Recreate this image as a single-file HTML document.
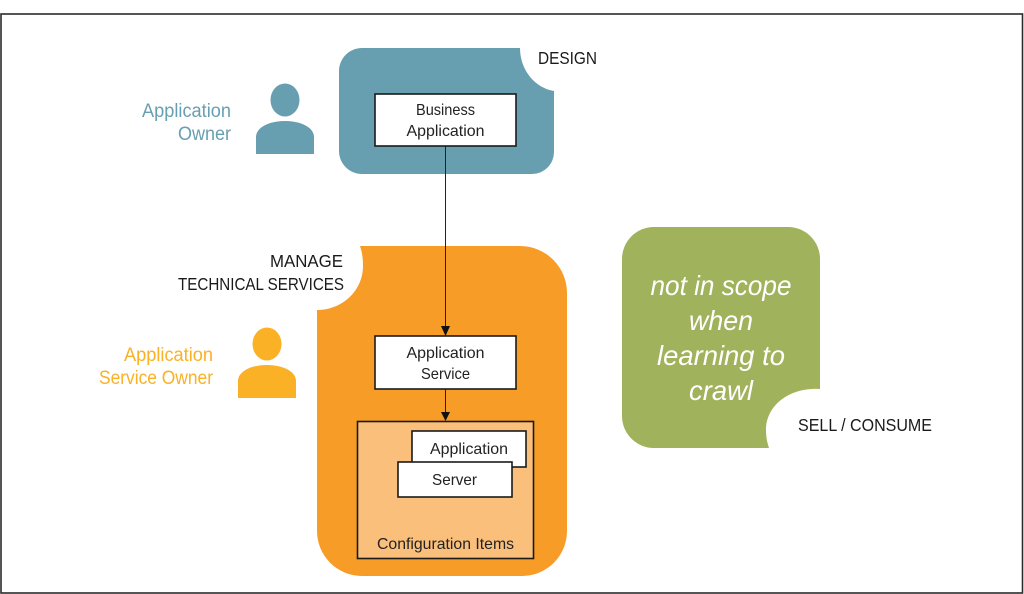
<!DOCTYPE html>
<html>
<head>
<meta charset="utf-8">
<style>
html,body{margin:0;padding:0;background:#fff;width:1024px;height:594px;overflow:hidden}
svg{display:block}
text{font-family:"Liberation Sans",sans-serif;font-size:17.5px;fill:#1a1a1a}
.t{font-size:16px;text-anchor:middle;fill:#222}
.o{font-size:19px}
.g{fill:#fff;font-size:28px;font-style:italic;text-anchor:middle}
</style>
</head>
<body>
<svg width="1024" height="594" viewBox="0 0 1024 594" xmlns="http://www.w3.org/2000/svg">
<rect x="0" y="0" width="1024" height="594" fill="#fff"/>
<rect x="1" y="14" width="1021.500" height="579" fill="#fff" stroke="#2b2b2b" stroke-width="1.600"/>

<!-- Teal -->
<path d="M362 48H520C520 70 535 88 554 91V152A22 22 0 0 1 532 174H362A23 23 0 0 1 339 151V71A23 23 0 0 1 362 48Z" fill="#679fb1"/>
<!-- Orange -->
<path d="M360 246H520A47 47 0 0 1 567 293V531A45 45 0 0 1 522 576H362A45 45 0 0 1 317 531V310C343 310 363 290 363 266C363 258 362 252 360 246Z" fill="#f79d27"/>
<!-- Green -->
<path d="M654 227H788A32 32 0 0 1 820 259V389C790 387 766 405 766 430C766 437 767 442 769 448H654A32 32 0 0 1 622 416V259A32 32 0 0 1 654 227Z" fill="#a0b25c"/>

<!-- People -->
<ellipse cx="285" cy="100" rx="14.500" ry="16.500" fill="#679fb1"/>
<path d="M256 154V137C256 128 268 121 285 121C302 121 314 128 314 137V154Z" fill="#679fb1"/>
<ellipse cx="267" cy="344" rx="14.500" ry="16.500" fill="#fab125"/>
<path d="M238 398V381C238 372 250 365 267 365C284 365 296 372 296 381V398Z" fill="#fab125"/>

<!-- Connectors -->
<line x1="445.500" y1="146" x2="445.500" y2="328" stroke="#222" stroke-width="1"/>
<polygon points="441,326 450,326 445.500,336" fill="#111"/>
<line x1="445.500" y1="389" x2="445.500" y2="414" stroke="#222" stroke-width="1"/>
<polygon points="441,412 450,412 445.500,421" fill="#111"/>

<!-- Boxes -->
<rect x="375" y="94" width="141" height="52" fill="#fff" stroke="#1a1a1a" stroke-width="1.600"/>
<rect x="375" y="336" width="141" height="53" fill="#fff" stroke="#1a1a1a" stroke-width="1.600"/>
<rect x="357.500" y="421.500" width="176" height="137" fill="#fac07b" stroke="#1a1a1a" stroke-width="1.600"/>
<rect x="412" y="431" width="114" height="36" fill="#fff" stroke="#1a1a1a" stroke-width="1.600"/>
<rect x="398" y="462" width="114" height="35" fill="#fff" stroke="#1a1a1a" stroke-width="1.600"/>

<!-- Box text -->
<text class="t" x="445.500" y="115" textLength="59" lengthAdjust="spacingAndGlyphs">Business</text>
<text class="t" x="445.500" y="136" textLength="78" lengthAdjust="spacingAndGlyphs">Application</text>
<text class="t" x="445.500" y="358" textLength="78" lengthAdjust="spacingAndGlyphs">Application</text>
<text class="t" x="445.500" y="379" textLength="49" lengthAdjust="spacingAndGlyphs">Service</text>
<text class="t" x="469" y="454" textLength="78" lengthAdjust="spacingAndGlyphs">Application</text>
<text class="t" x="454.500" y="485" textLength="45" lengthAdjust="spacingAndGlyphs">Server</text>
<text class="t" x="445.500" y="549" textLength="137" lengthAdjust="spacingAndGlyphs">Configuration Items</text>

<!-- Labels -->
<text x="538" y="64" textLength="59" lengthAdjust="spacingAndGlyphs">DESIGN</text>
<text x="270" y="267" textLength="73" lengthAdjust="spacingAndGlyphs">MANAGE</text>
<text x="178" y="290" textLength="166" lengthAdjust="spacingAndGlyphs">TECHNICAL SERVICES</text>
<text x="798" y="431" textLength="134" lengthAdjust="spacingAndGlyphs">SELL / CONSUME</text>

<text class="o" x="142" y="117" style="fill:#679fb1" textLength="89" lengthAdjust="spacingAndGlyphs">Application</text>
<text class="o" x="178" y="140" style="fill:#679fb1" textLength="53" lengthAdjust="spacingAndGlyphs">Owner</text>
<text class="o" x="124" y="361" style="fill:#fab125" textLength="89" lengthAdjust="spacingAndGlyphs">Application</text>
<text class="o" x="99" y="384" style="fill:#fab125" textLength="114" lengthAdjust="spacingAndGlyphs">Service Owner</text>

<text class="g" x="721" y="295" textLength="141" lengthAdjust="spacingAndGlyphs">not in scope</text>
<text class="g" x="721" y="330" textLength="64" lengthAdjust="spacingAndGlyphs">when</text>
<text class="g" x="721" y="365" textLength="128" lengthAdjust="spacingAndGlyphs">learning to</text>
<text class="g" x="721" y="400" textLength="64" lengthAdjust="spacingAndGlyphs">crawl</text>
</svg>
</body>
</html>
